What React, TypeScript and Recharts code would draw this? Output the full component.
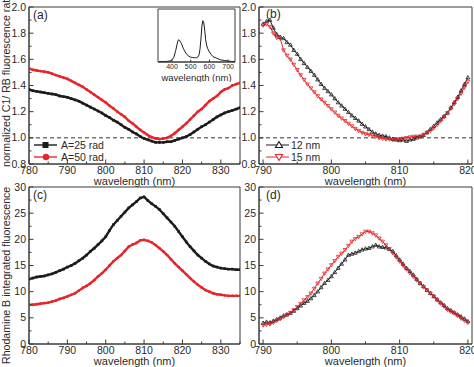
import React from "react";
import { LineChart, Line, XAxis, YAxis, ReferenceLine, ReferenceArea } from "recharts";

const FONT = "'Liberation Sans', Arial, Helvetica, sans-serif";
const AX = "#3a3a3a";
const TXT = "#2a2a2a";
const RED = "#e5262b";
const BLK = "#1c1c1c";

// (a) and (c): 780..835 nm, 1 nm sampling
const wlAC = Array.from({ length: 56 }, (_, i) => 780 + i);
const ratio25 = [
  1.37, 1.36, 1.355, 1.35, 1.345, 1.34, 1.335, 1.33, 1.32, 1.315,
  1.31, 1.30, 1.29, 1.28, 1.265, 1.25, 1.235, 1.22, 1.205, 1.19,
  1.17, 1.155, 1.135, 1.12, 1.10, 1.08, 1.065, 1.045, 1.03, 1.01,
  0.995, 0.985, 0.975, 0.965, 0.965, 0.965, 0.97, 0.97, 0.98, 0.99,
  1.0, 1.01, 1.025, 1.045, 1.065, 1.085, 1.10, 1.12, 1.14, 1.16,
  1.175, 1.19, 1.20, 1.21, 1.22, 1.23,
];
const ratio50 = [
  1.53, 1.52, 1.515, 1.51, 1.505, 1.50, 1.49, 1.48, 1.47, 1.46,
  1.45, 1.435, 1.42, 1.405, 1.39, 1.37, 1.35, 1.33, 1.31, 1.29,
  1.27, 1.245, 1.225, 1.20, 1.18, 1.16, 1.13, 1.11, 1.085, 1.06,
  1.04, 1.02, 1.005, 0.995, 0.99, 0.995, 1.0, 1.015, 1.035, 1.06,
  1.085, 1.11, 1.14, 1.17, 1.20, 1.22, 1.25, 1.28, 1.30, 1.32,
  1.35, 1.37, 1.38, 1.40, 1.41, 1.42,
];
const fluo25 = [
  12.4, 12.6, 12.8, 12.9, 13.0, 13.2, 13.4, 13.7, 14.0, 14.3,
  14.7, 15.0, 15.4, 15.9, 16.4, 17.0, 17.7, 18.3, 19.0, 19.7,
  20.5, 21.7, 22.8, 23.6, 24.4, 25.2, 26.0, 26.6, 27.2, 27.9,
  28.1, 27.4, 26.8, 26.3, 25.7, 24.9, 24.1, 23.3, 22.5, 21.5,
  20.5, 19.5, 18.6, 17.8, 17.0, 16.4, 15.8, 15.3, 14.9, 14.7,
  14.5, 14.4, 14.3, 14.3, 14.2, 14.2,
];
const fluo50 = [
  7.5, 7.5, 7.6, 7.7, 7.8, 7.9, 8.1, 8.3, 8.6, 8.8,
  9.1, 9.4, 9.7, 10.2, 10.7, 11.1, 11.6, 12.2, 12.9, 13.5,
  14.2, 15.0, 15.8, 16.4, 17.0, 17.8, 18.6, 19.0, 19.3, 19.8,
  19.9, 19.7, 19.4, 18.9, 18.3, 17.7, 17.0, 16.2, 15.4, 14.7,
  14.0, 13.3, 12.6, 11.9, 11.3, 10.8, 10.3, 10.0, 9.7, 9.5,
  9.4, 9.3, 9.2, 9.2, 9.2, 9.2,
];

// (b) and (d): 790..820 nm, 0.5 nm sampling
const wlBD = Array.from({ length: 61 }, (_, i) => 790 + i * 0.5);
const ratio12 = [
  1.87, 1.89, 1.90, 1.84, 1.79, 1.77, 1.76, 1.73, 1.71, 1.67,
  1.64, 1.60, 1.57, 1.54, 1.51, 1.48, 1.445, 1.41, 1.38, 1.355,
  1.33, 1.30, 1.27, 1.245, 1.22, 1.195, 1.17, 1.15, 1.13, 1.105,
  1.085, 1.065, 1.045, 1.03, 1.02, 1.015, 1.01, 1.0, 0.99, 0.985,
  0.98, 0.985, 0.975, 0.985, 0.99, 1.0, 1.01, 1.02, 1.04, 1.065,
  1.09, 1.115, 1.14, 1.165, 1.19, 1.23, 1.27, 1.31, 1.36, 1.41,
  1.46,
];
const ratio15 = [
  1.86, 1.87, 1.85, 1.80, 1.765, 1.76, 1.67, 1.63, 1.60, 1.56,
  1.52, 1.48, 1.445, 1.41, 1.38, 1.35, 1.32, 1.295, 1.27, 1.245,
  1.22, 1.195, 1.17, 1.15, 1.13, 1.11, 1.09, 1.07, 1.055, 1.04,
  1.03, 1.025, 1.02, 1.01, 1.0, 0.995, 0.99, 0.99, 0.985, 0.99,
  0.99, 0.995, 1.0, 1.005, 1.01, 1.01, 1.01, 1.025, 1.04, 1.055,
  1.075, 1.10, 1.13, 1.16, 1.19, 1.225, 1.26, 1.30, 1.34, 1.385,
  1.43,
];
const fluo12 = [
  4.0, 4.2, 4.1, 4.4, 4.7, 5.0, 5.4, 5.6, 5.9, 6.3,
  6.8, 7.3, 7.8, 8.2, 8.7, 9.3, 10.0, 10.8, 11.6, 12.2,
  12.9, 13.7, 14.5, 15.3, 16.1, 17.0, 17.2, 17.4, 17.7, 18.0,
  18.2, 18.3, 18.6, 18.9, 18.6, 18.5, 18.4, 18.1, 17.7, 16.9,
  16.1, 15.3, 14.5, 13.9, 13.2, 12.4, 11.6, 11.0, 10.3, 9.7,
  9.1, 8.5, 7.9, 7.4, 6.8, 6.4, 6.0, 5.6, 5.2, 4.8,
  4.3,
];
const fluo15 = [
  3.6, 3.7, 3.8, 4.1, 4.5, 4.8, 5.2, 5.6, 6.0, 6.5,
  7.1, 7.7, 8.4, 9.0, 9.7, 10.6, 11.6, 12.5, 13.5, 14.3,
  15.1, 15.9, 16.7, 17.3, 18.0, 18.8, 19.6, 20.1, 20.5, 21.0,
  21.5, 21.5, 21.2, 20.8, 20.2, 19.6, 18.9, 18.2, 17.4, 16.6,
  15.8, 15.0, 14.3, 13.6, 12.9, 12.2, 11.6, 10.9, 10.3, 9.7,
  9.1, 8.4, 7.8, 7.2, 6.6, 6.2, 5.9, 5.4, 4.9, 4.5,
  4.1,
];

// inset emission spectrum
const insetWl = [
  330, 350, 370, 390, 400, 410, 420, 430, 435, 440, 450, 460, 470, 480, 490,
  500, 510, 520, 530, 540, 545, 550, 555, 560, 565, 570, 575, 580, 585, 590,
  600, 610, 620, 640, 660, 680, 700, 720, 740,
];
const insetI = [
  0.01, 0.01, 0.01, 0.02, 0.04, 0.09, 0.22, 0.38, 0.42, 0.41, 0.35, 0.26, 0.19, 0.14, 0.11,
  0.09, 0.085, 0.08, 0.08, 0.1, 0.14, 0.25, 0.45, 0.68, 0.78, 0.74, 0.6, 0.42, 0.32, 0.26,
  0.19, 0.14, 0.1, 0.07, 0.04, 0.03, 0.02, 0.01, 0.01,
];

const xTicksAC = [780, 785, 790, 795, 800, 805, 810, 815, 820, 825, 830, 835];
const xMajorAC = [780, 790, 800, 810, 820, 830];
const xTicksBD = [790, 795, 800, 805, 810, 815, 820];
const xMajorBD = [790, 800, 810, 820];
const yTicksRatio = [0.8, 0.9, 1.0, 1.1, 1.2, 1.3, 1.4, 1.5, 1.6, 1.7, 1.8, 1.9, 2.0];
const yMajorRatio = [0.8, 1.0, 1.2, 1.4, 1.6, 1.8, 2.0];
const yTicksFluo = [0, 2.5, 5, 7.5, 10, 12.5, 15, 17.5, 20, 22.5, 25, 27.5, 30];
const yMajorFluo = [0, 5, 10, 15, 20, 25, 30];

const rowsAC = wlAC.map((x, i) => ({ x, r25: ratio25[i], r50: ratio50[i], f25: fluo25[i], f50: fluo50[i] }));
const rowsBD = wlBD.map((x, i) => ({ x, r12: ratio12[i], r15: ratio15[i], f12: fluo12[i], f15: fluo15[i] }));
const rowsInset = insetWl.map((x, i) => ({ x, v: insetI[i] }));

const near = (v: number, list: number[]) => list.some((m) => Math.abs(m - v) < 1e-6);

const bottomTick = (majors: number[], fs: number, len = 4.5, minor = 2.5) => (p: any) => {
  const { x, y, payload } = p;
  const v = payload.value;
  const major = near(v, majors);
  return (
    <g key={"bx" + v}>
      <line x1={x} x2={x} y1={y} y2={y - (major ? len : minor)} stroke={AX} />
      {major && (
        <text x={x} y={y + fs * 0.95 + 0.5} textAnchor="middle" fontSize={fs} fontFamily={FONT} fill={TXT}>
          {v}
        </text>
      )}
    </g>
  );
};

const leftTick = (majors: number[], digits: number) => (p: any) => {
  const { x, y, payload } = p;
  const v = payload.value;
  const major = near(v, majors);
  return (
    <g key={"ly" + v}>
      <line x1={x} x2={x + (major ? 4.5 : 2.5)} y1={y} y2={y} stroke={AX} />
      {major && (
        <text x={x - 3} y={y + 3.6} textAnchor="end" fontSize={10.5} fontFamily={FONT} fill={TXT}>
          {v.toFixed(digits)}
        </text>
      )}
    </g>
  );
};

const square = (c: string) => (p: any) =>
  p.cx == null ? <g key={p.index} /> : <rect key={p.index} x={p.cx - 1.3} y={p.cy - 1.3} width={2.6} height={2.6} fill={c} />;
const dotC = (c: string) => (p: any) =>
  p.cx == null ? <g key={p.index} /> : <circle key={p.index} cx={p.cx} cy={p.cy} r={1.4} fill={c} />;
const triUp = (c: string) => (p: any) =>
  p.cx == null ? (
    <g key={p.index} />
  ) : (
    <path key={p.index} d={`M${p.cx},${p.cy - 2.1}L${p.cx + 1.9},${p.cy + 1.3}L${p.cx - 1.9},${p.cy + 1.3}Z`} fill="none" stroke={c} strokeWidth={0.8} />
  );
const triDown = (c: string) => (p: any) =>
  p.cx == null ? (
    <g key={p.index} />
  ) : (
    <path key={p.index} d={`M${p.cx},${p.cy + 2.1}L${p.cx + 1.9},${p.cy - 1.3}L${p.cx - 1.9},${p.cy - 1.3}Z`} fill="none" stroke={c} strokeWidth={0.8} />
  );

const xTitle = { value: "wavelength (nm)", position: "insideBottom", offset: 2, fontSize: 11, fontFamily: FONT, fill: TXT } as any;

const W = 244;
const H = 187;
const margin = { top: 7, right: 2, left: 0, bottom: 0 };

export default function App() {
  return (
    <div style={{ position: "absolute", left: 0, top: 0, width: 474, height: 367, background: "#fff", overflow: "hidden" }}>
      {/* (a) */}
      <div style={{ position: "absolute", left: 0, top: 0 }}>
        <LineChart width={242} height={H} data={rowsAC} margin={margin}>
          <XAxis type="number" dataKey="x" domain={[780, 835]} ticks={xTicksAC} interval={0} allowDataOverflow
            tickLine={false} tickSize={0} tickMargin={0} height={23} axisLine={{ stroke: AX }}
            tick={bottomTick(xMajorAC, 10.5)} label={xTitle} />
          <YAxis type="number" domain={[0.8, 2.0]} ticks={yTicksRatio} interval={0} allowDataOverflow width={29}
            tickLine={false} tickSize={0} tickMargin={0} axisLine={{ stroke: AX }} tick={leftTick(yMajorRatio, 1)} />
          <ReferenceArea x1={780} x2={835} y1={0.8} y2={2.0} fill="none" stroke={AX} />
          <ReferenceLine y={1} stroke="#333" strokeDasharray="4 3" />
          <Line dataKey="r50" stroke={RED} strokeWidth={2.4} dot={dotC(RED)} isAnimationActive={false} />
          <Line dataKey="r25" stroke={BLK} strokeWidth={2.4} dot={square(BLK)} isAnimationActive={false} />
        </LineChart>
      </div>
      {/* inset */}
      <div style={{ position: "absolute", left: 150, top: 0 }}>
        <LineChart width={95} height={82} data={rowsInset} margin={{ top: 9, right: 10, left: 8, bottom: 0 }}>
          <XAxis type="number" dataKey="x" domain={[325, 737]} ticks={[400, 500, 600, 700]} interval={0} allowDataOverflow
            tickLine={false} tickSize={0} tickMargin={0} height={20} axisLine={{ stroke: AX }}
            tick={bottomTick([400, 500, 600, 700], 7, 2.5)}
            label={{ value: "wavelength (nm)", position: "insideBottom", offset: 1, fontSize: 9.5, fontFamily: FONT, fill: TXT }} />
          <YAxis type="number" domain={[0, 1]} hide />
          <ReferenceArea x1={325} x2={737} y1={0} y2={1} fill="none" stroke={AX} />
          <Line dataKey="v" stroke={BLK} strokeWidth={1} dot={false} isAnimationActive={false} />
        </LineChart>
      </div>
      {/* (b) */}
      <div style={{ position: "absolute", left: 230, top: 0 }}>
        <LineChart width={W} height={H} data={rowsBD} margin={margin}>
          <XAxis type="number" dataKey="x" domain={[789.4, 820.6]} ticks={xTicksBD} interval={0} allowDataOverflow
            tickLine={false} tickSize={0} tickMargin={0} height={23} axisLine={{ stroke: AX }}
            tick={bottomTick(xMajorBD, 10.5)} label={xTitle} />
          <YAxis type="number" domain={[0.8, 2.0]} ticks={yTicksRatio} interval={0} allowDataOverflow width={29}
            tickLine={false} tickSize={0} tickMargin={0} axisLine={{ stroke: AX }} tick={leftTick(yMajorRatio, 1)} />
          <ReferenceArea x1={789.4} x2={820.6} y1={0.8} y2={2.0} fill="none" stroke={AX} />
          <ReferenceLine y={1} stroke="#333" strokeDasharray="4 3" />
          <Line dataKey="r12" stroke={BLK} strokeWidth={1} dot={triUp(BLK)} isAnimationActive={false} />
          <Line dataKey="r15" stroke={RED} strokeWidth={1} dot={triDown(RED)} isAnimationActive={false} />
        </LineChart>
      </div>
      {/* (c) */}
      <div style={{ position: "absolute", left: 0, top: 180 }}>
        <LineChart width={242} height={H} data={rowsAC} margin={margin}>
          <XAxis type="number" dataKey="x" domain={[780, 835]} ticks={xTicksAC} interval={0} allowDataOverflow
            tickLine={false} tickSize={0} tickMargin={0} height={23} axisLine={{ stroke: AX }}
            tick={bottomTick(xMajorAC, 10.5)} label={xTitle} />
          <YAxis type="number" domain={[0, 30]} ticks={yTicksFluo} interval={0} allowDataOverflow width={29}
            tickLine={false} tickSize={0} tickMargin={0} axisLine={{ stroke: AX }} tick={leftTick(yMajorFluo, 0)} />
          <ReferenceArea x1={780} x2={835} y1={0} y2={30} fill="none" stroke={AX} />
          <Line dataKey="f50" stroke={RED} strokeWidth={2.4} dot={dotC(RED)} isAnimationActive={false} />
          <Line dataKey="f25" stroke={BLK} strokeWidth={2.4} dot={square(BLK)} isAnimationActive={false} />
        </LineChart>
      </div>
      {/* (d) */}
      <div style={{ position: "absolute", left: 230, top: 180 }}>
        <LineChart width={W} height={H} data={rowsBD} margin={margin}>
          <XAxis type="number" dataKey="x" domain={[789.4, 820.6]} ticks={xTicksBD} interval={0} allowDataOverflow
            tickLine={false} tickSize={0} tickMargin={0} height={23} axisLine={{ stroke: AX }}
            tick={bottomTick(xMajorBD, 10.5)} label={xTitle} />
          <YAxis type="number" domain={[0, 30]} ticks={yTicksFluo} interval={0} allowDataOverflow width={29}
            tickLine={false} tickSize={0} tickMargin={0} axisLine={{ stroke: AX }} tick={leftTick(yMajorFluo, 0)} />
          <ReferenceArea x1={789.4} x2={820.6} y1={0} y2={30} fill="none" stroke={AX} />
          <Line dataKey="f12" stroke={BLK} strokeWidth={1} dot={triUp(BLK)} isAnimationActive={false} />
          <Line dataKey="f15" stroke={RED} strokeWidth={1} dot={triDown(RED)} isAnimationActive={false} />
        </LineChart>
      </div>
      {/* shared titles, panel letters, legends */}
      <svg width={474} height={367} style={{ position: "absolute", left: 0, top: 0, pointerEvents: "none" }}>
        <g fontFamily={FONT} fill={TXT}>
          <text transform="translate(10,167) rotate(-90)" fontSize={10.6}>normalized C1/ RB fluorescence ratio</text>
          <text transform="translate(10,364) rotate(-90)" fontSize={10.6}>Rhodamine B integrated fluorescence</text>
          <text x={33} y={19} fontSize={12}>(a)</text>
          <text x={266} y={18} fontSize={12}>(b)</text>
          <text x={33} y={199} fontSize={12}>(c)</text>
          <text x={266} y={199} fontSize={12}>(d)</text>
          {/* legend (a) */}
          <line x1={34} x2={57} y1={145} y2={145} stroke={BLK} strokeWidth={1.4} />
          <rect x={42.5} y={142} width={6} height={6} fill={BLK} />
          <text x={61} y={149} fontSize={10.5}>A=25 rad</text>
          <line x1={34} x2={57} y1={157} y2={157} stroke={RED} strokeWidth={1.4} />
          <circle cx={46} cy={157} r={3.2} fill={RED} />
          <text x={61} y={161} fontSize={10.5}>A=50 rad</text>
          {/* legend (b) */}
          <line x1={266} x2={289} y1={145} y2={145} stroke={BLK} strokeWidth={1} />
          <path d="M279,141.5L282.5,147.5L275.5,147.5Z" fill="#fff" stroke={BLK} strokeWidth={1.1} />
          <text x={291} y={149} fontSize={10.5}>12 nm</text>
          <line x1={266} x2={289} y1={157} y2={157} stroke={RED} strokeWidth={1} />
          <path d="M279,160.5L282.5,154.5L275.5,154.5Z" fill="#fff" stroke={RED} strokeWidth={1.1} />
          <text x={291} y={161} fontSize={10.5}>15 nm</text>
        </g>
      </svg>
    </div>
  );
}
